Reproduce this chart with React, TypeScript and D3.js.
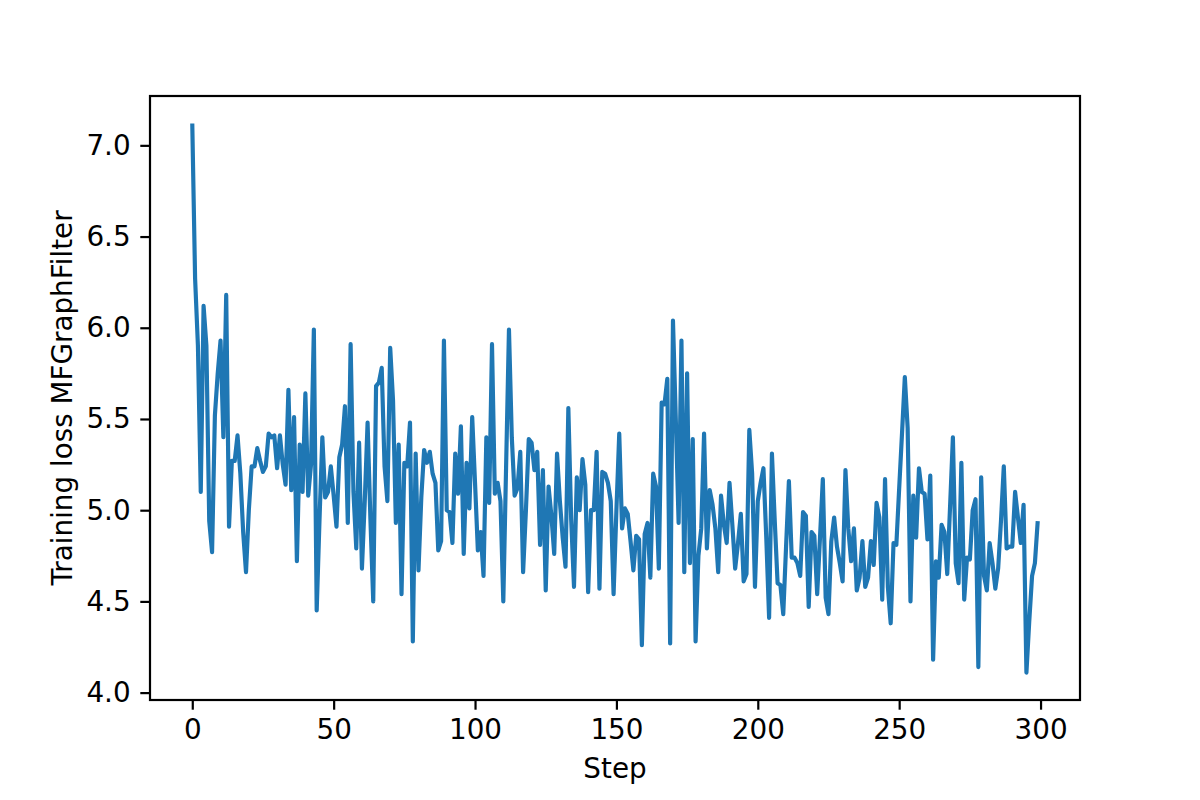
import React, { useEffect, useRef } from 'react';
import * as d3 from 'd3';

// training loss per step in chunks of 50 steps
const lossSteps0 = [
  7.12, 6.27, 5.90, 5.10, 6.12, 5.90, 4.94, 4.77, 5.52, 5.75,
  5.93, 5.40, 6.18, 4.91, 5.27, 5.27, 5.41, 5.20, 4.88, 4.66,
  5.00, 5.24, 5.24, 5.34, 5.27, 5.21, 5.24, 5.42, 5.40, 5.41,
  5.23, 5.41, 5.25, 5.14, 5.66, 5.11, 5.51, 4.72, 5.36, 5.10,
  5.64, 5.08, 5.25, 5.99, 4.45, 4.95, 5.40, 5.07, 5.10, 5.24,
];
const lossSteps50 = [
  5.08, 4.91, 5.29, 5.36, 5.57, 4.93, 5.91, 5.10, 4.79, 5.37,
  4.68, 5.05, 5.48, 4.95, 4.50, 5.68, 5.70, 5.78, 5.24, 5.05,
  5.89, 5.60, 4.93, 5.36, 4.54, 5.26, 5.24, 5.48, 4.28, 5.31,
  4.67, 5.07, 5.33, 5.26, 5.32, 5.20, 5.15, 4.78, 4.83, 5.93,
  5.00, 4.99, 4.82, 5.31, 5.09, 5.46, 4.76, 5.26, 5.01, 5.51,
];
const lossSteps100 = [
  5.15, 4.78, 4.88, 4.64, 5.40, 5.04, 5.91, 5.09, 5.15, 5.05,
  4.50, 5.25, 5.99, 5.40, 5.08, 5.12, 5.32, 4.66, 5.00, 5.39,
  5.37, 5.22, 5.32, 4.81, 5.22, 4.56, 5.13, 4.97, 4.76, 5.31,
  5.05, 4.85, 4.69, 5.56, 4.95, 4.58, 5.18, 5.00, 5.28, 5.14,
  4.55, 5.00, 5.00, 5.32, 4.57, 5.21, 5.20, 5.15, 5.05, 4.54,
];
const lossSteps150 = [
  5.00, 5.42, 4.90, 5.01, 4.98, 4.83, 4.67, 4.86, 4.84, 4.26,
  4.87, 4.93, 4.63, 5.20, 5.13, 4.68, 5.59, 5.58, 5.72, 4.27,
  6.04, 5.50, 4.93, 5.93, 4.66, 5.75, 4.71, 5.39, 4.28, 4.75,
  4.90, 5.42, 4.79, 5.11, 5.03, 4.90, 4.66, 5.08, 4.92, 4.82,
  5.15, 4.92, 4.68, 4.82, 4.98, 4.61, 4.65, 5.44, 5.20, 4.58,
];
const lossSteps200 = [
  5.05, 5.15, 5.23, 4.85, 4.41, 5.31, 4.94, 4.60, 4.59, 4.43,
  4.80, 5.16, 4.74, 4.74, 4.71, 4.64, 4.99, 4.97, 4.47, 4.88,
  4.86, 4.54, 4.85, 5.17, 4.52, 4.43, 4.83, 4.96, 4.80, 4.71,
  4.61, 5.22, 4.90, 4.72, 4.90, 4.56, 4.63, 4.83, 4.58, 4.63,
  4.83, 4.70, 5.04, 4.96, 4.51, 5.17, 4.58, 4.38, 4.82, 4.81,
];
const lossSteps250 = [
  5.12, 5.42, 5.73, 5.45, 4.50, 5.08, 4.85, 5.23, 5.10, 5.09,
  4.84, 5.19, 4.18, 4.72, 4.63, 4.92, 4.88, 4.65, 5.02, 5.40,
  4.71, 4.60, 5.26, 4.51, 4.74, 4.73, 5.00, 5.06, 4.14, 5.18,
  4.64, 4.56, 4.82, 4.71, 4.57, 4.68, 4.94, 5.24, 4.79, 4.80,
  4.80, 5.10, 4.96, 4.82, 5.03, 4.11, 4.39, 4.64, 4.71, 4.94,
];

const xTicks = [0, 50, 100, 150, 200, 250, 300];
const yTicks = [4.0, 4.5, 5.0, 5.5, 6.0, 6.5, 7.0];
const xLabel = 'Step';
const yLabel = 'Training loss MFGraphFilter';

const loss = [
  ...lossSteps0, ...lossSteps50, ...lossSteps100,
  ...lossSteps150, ...lossSteps200, ...lossSteps250,
];

const width = 1200;
const height = 800;
const margin = { top: 96, right: 120, bottom: 100, left: 150 };
const fontSize = 27.8;
const font = '"DejaVu Sans", sans-serif';

export default function App() {
  const ref = useRef<SVGSVGElement>(null);

  useEffect(() => {
    const svg = d3.select(ref.current);
    svg.selectAll('*').remove();

    // matplotlib style autoscale: 5% margin on both axes
    const n = loss.length;
    const xPad = (n - 1) * 0.05;
    const [yMin, yMax] = d3.extent(loss) as [number, number];
    const yPad = (yMax - yMin) * 0.05;

    const x = d3.scaleLinear()
      .domain([-xPad, n - 1 + xPad])
      .range([margin.left, width - margin.right]);

    const y = d3.scaleLinear()
      .domain([yMin - yPad, yMax + yPad])
      .range([height - margin.bottom, margin.top]);

    svg.append('rect')
      .attr('width', width)
      .attr('height', height)
      .attr('fill', '#fff');

    const line = d3.line<number>()
      .x((d, i) => x(i))
      .y((d) => y(d));

    svg.append('path')
      .datum(loss)
      .attr('d', line)
      .attr('fill', 'none')
      .attr('stroke', '#1f77b4')
      .attr('stroke-width', 4.17)
      .attr('stroke-linejoin', 'round');

    const xAxis = svg.append('g')
      .attr('transform', `translate(0, ${height - margin.bottom})`)
      .call(d3.axisBottom(x).tickValues(xTicks).tickFormat(d3.format('d'))
        .tickSize(9.7).tickPadding(9.7).tickSizeOuter(0));

    const yAxis = svg.append('g')
      .attr('transform', `translate(${margin.left}, 0)`)
      .call(d3.axisLeft(y).tickValues(yTicks).tickFormat(d3.format('.1f'))
        .tickSize(9.7).tickPadding(9.7).tickSizeOuter(0));

    [xAxis, yAxis].forEach((g) => {
      g.select('.domain').remove();
      g.selectAll('.tick line').attr('stroke', '#000').attr('stroke-width', 2.2);
      g.selectAll('.tick text')
        .attr('fill', '#000')
        .style('font-family', font)
        .style('font-size', `${fontSize}px`);
    });

    svg.append('rect')
      .attr('x', margin.left)
      .attr('y', margin.top)
      .attr('width', width - margin.left - margin.right)
      .attr('height', height - margin.top - margin.bottom)
      .attr('fill', 'none')
      .attr('stroke', '#000')
      .attr('stroke-width', 2.2);

    svg.append('text')
      .attr('x', (margin.left + width - margin.right) / 2)
      .attr('y', 778)
      .attr('text-anchor', 'middle')
      .style('font-family', font)
      .style('font-size', `${fontSize}px`)
      .text(xLabel);

    svg.append('text')
      .attr('transform', `translate(72, ${(margin.top + height - margin.bottom) / 2}) rotate(-90)`)
      .attr('text-anchor', 'middle')
      .style('font-family', font)
      .style('font-size', `${fontSize}px`)
      .text(yLabel);
  }, []);

  return (
    <svg
      ref={ref}
      width={width}
      height={height}
      style={{ position: 'absolute', left: 0, top: 0 }}
    />
  );
}
